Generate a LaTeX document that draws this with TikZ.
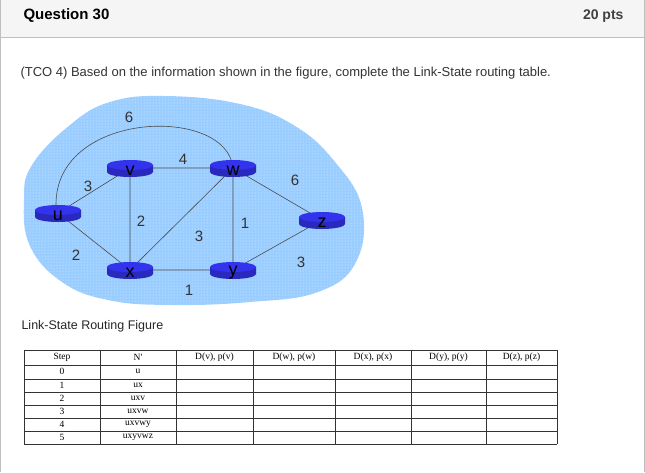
\documentclass[tikz,border=0pt]{standalone}
\usepackage{fontspec}
\setmainfont{Liberation Sans}
\newfontfamily\tabfont{Liberation Serif}
\usetikzlibrary{patterns}
\definecolor{cloud}{HTML}{99CCFF}
\definecolor{router}{HTML}{3333EE}
\begin{document}
\begin{tikzpicture}
[
x=1pt, y=-1pt,
rtr/.style={rectangle, minimum width=44pt, minimum height=18pt, inner sep=0pt, font=\fontsize{18}{18}\selectfont},
link/.style={draw=black!70, line width=0.6pt},
cost/.style={font=\fontsize{15}{15}\selectfont, text=black!80},
cell/.style={font=\tabfont\fontsize{9.5}{9.5}\selectfont, anchor=center},
]
\useasboundingbox (0,0) rectangle (645,472);
% frame and header
\fill[black!4] (0,0) rectangle (645,37);
\draw[black!25] (0.5,0) -- (0.5,472) (644.5,0) -- (644.5,472);
\draw[black!25] (0,37) -- (645,37);
\node (title) [anchor=west, font=\bfseries\fontsize{15}{15}\selectfont] at (20,16) {Question 30};
\node (pts) [anchor=east, font=\bfseries\fontsize{14}{14}\selectfont, text=black!75] at (627,16) {20 pts};
\node (question) [anchor=west, font=\fontsize{13}{13}\selectfont, text=black!80] at (17,73) {(TCO 4) Based on the information shown in the figure, complete the Link-State routing table.};

% cloud
\def\blob{plot[smooth cycle, tension=0.7] coordinates {(32,165) (70,125) (110,102) (165,96) (240,104) (295,126) (335,162) (362,208) (356,262) (318,292) (250,302) (170,305) (108,300) (62,282) (30,246) (24,200)}}
\fill[cloud] \blob;
\fill[pattern=dots, pattern color=white!80!cloud] \blob;

% router positions
\coordinate (u) at (58,213);
\coordinate (v) at (130,168);
\coordinate (w) at (233,168);
\coordinate (z) at (322,220);
\coordinate (x) at (130,270);
\coordinate (y) at (233,270);

% links
\draw[link] (56,205) .. controls (55,110) and (227,105) .. (w);
\draw[link] (u) -- (v) (v) -- (w) (v) -- (x) (u) -- (x) (x) -- (w) (w) -- (y) (w) -- (z) (x) -- (y) (y) -- (z);

% routers
\foreach \r in {u,v,w,z,x,y}
{
  \fill[router!80!black] (\r) ++(-23,-3) -- ++(0,7) arc[start angle=180, end angle=0, x radius=23, y radius=5] -- ++(0,-7) -- cycle;
  \fill[router] (\r) ++(0,-3) ellipse[x radius=23, y radius=5];
  \node (\r-lbl) [rtr] at ([yshift=-3pt]\r) {\r};
}

% costs
\node (c1) [cost] at (129,117) {6};
\node (c2) [cost] at (88,186) {3};
\node (c3) [cost] at (183,159) {4};
\node (c4) [cost] at (141,221) {2};
\node (c5) [cost] at (199,236) {3};
\node (c6) [cost] at (245,223) {1};
\node (c7) [cost] at (295,180) {6};
\node (c8) [cost] at (76,255) {2};
\node (c9) [cost] at (301,262) {3};
\node (c10) [cost] at (189,290) {1};

\node (caption) [anchor=west, font=\fontsize{12.5}{12.5}\selectfont, text=black!85] at (18,326) {Link-State Routing Figure};

% table
\foreach \c in {24,100,176,253,335,411,486,557} \draw[black!80, line width=0.6pt] (\c,350) -- (\c,444);
\foreach \r in {350,365,379,392,405,418,431,444} \draw[black!80, line width=0.6pt] (24,\r) -- (557,\r);
\foreach \t [count=\i] in {Step,N',{D(v), p(v)},{D(w), p(w)},{D(x), p(x)},{D(y), p(y)},{D(z), p(z)}}
{
  \pgfmathsetmacro\xl{{24,100,176,253,335,411,486,557}[\i-1]}
  \pgfmathsetmacro\xr{{24,100,176,253,335,411,486,557}[\i]}
  \node (h\i) [cell] at ({(\xl+\xr)/2},357.5) {\t};
}
\foreach \s/\n [count=\i] in {0/u,1/ux,2/uxv,3/uxvw,4/uxvwy,5/uxyvwz}
{
  \pgfmathsetmacro\yc{{365,379,392,405,418,431,444}[\i-1]+6.5}
  \node (s\i) [cell] at (62,\yc) {\s};
  \node (n\i) [cell] at (138,\yc) {\n};
}
\end{tikzpicture}
\end{document}
